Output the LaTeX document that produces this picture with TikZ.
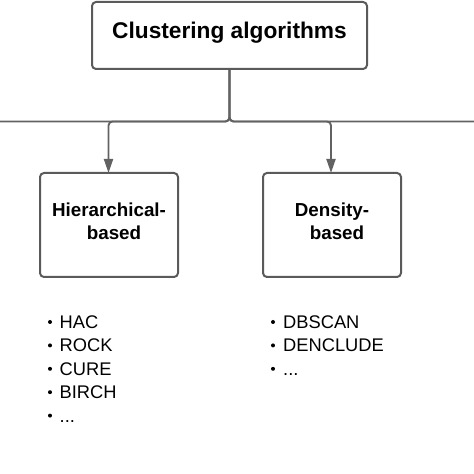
\documentclass[tikz,border=0pt]{standalone}
\usepackage{fontspec}
\setmainfont{Liberation Sans}
\usetikzlibrary{arrows.meta}
\definecolor{boxline}{HTML}{5A5A5A}
\definecolor{connline}{HTML}{626262}
\tikzset{
  box/.style={draw=boxline, line width=2pt, rounded corners=4pt, inner sep=0pt},
  conn/.style={draw=connline, line width=1.9pt, rounded corners=4pt},
  arr/.style={-{Triangle[width=9pt,length=14pt]}},
  lbl/.style={anchor=base, font=\bfseries\fontsize{18.8}{22}\selectfont, inner sep=0pt},
  item/.style={anchor=base west, font=\fontsize{18.3}{22}\selectfont, inner sep=0pt},
  dot/.style={circle, fill=black, inner sep=0pt, minimum size=4pt}
}
\begin{document}
\begin{tikzpicture}[x=1pt,y=1pt]
\useasboundingbox (0,0) rectangle (474,474);
% boxes
\node[box, minimum width=275pt, minimum height=67pt] (top) at (229.5,438.5) {};
\node[lbl, font=\bfseries\fontsize{22.7}{26}\selectfont] (toplbl) at (229.5,435) {Clustering algorithms};
\node[box, minimum width=138pt, minimum height=104pt] (hb) at (109,249) {};
\node[box, minimum width=138pt, minimum height=104pt] (db) at (332,249) {};
\node[lbl] (hb1) at (109,257) {Hierarchical-};
\node[lbl] (hb2) at (114,234) {based};
\node[lbl] (db1) at (332,257) {Density-};
\node[lbl] (db2) at (337,234) {based};
% connectors
\coordinate (edgeL) at (0,352.5);
\coordinate (edgeR) at (474,352.5);
\draw[conn] (top.south) |- (edgeL);
\draw[conn] (top.south) |- (edgeR);
\draw[conn, arr] (top.south) |- (108.5,352.5) -- (108.5,301);
\draw[conn, arr] (top.south) |- (331,352.5) -- (331,301);
% left list
\node[dot] (ld1) at (50,152) {};
\node[item] (li1) at (59.5,145.5) {HAC};
\node[dot] (ld2) at (50,128.6) {};
\node[item] (li2) at (59.5,122.1) {ROCK};
\node[dot] (ld3) at (50,105.2) {};
\node[item] (li3) at (59.5,98.7) {CURE};
\node[dot] (ld4) at (50,81.8) {};
\node[item] (li4) at (59.5,75.3) {BIRCH};
\node[dot] (ld5) at (50,58.4) {};
\node[item] (li5) at (59.5,51.9) {...};
% right list
\node[dot] (rd1) at (273,152) {};
\node[item] (ri1) at (283,145.5) {DBSCAN};
\node[dot] (rd2) at (273,128.6) {};
\node[item] (ri2) at (283,122.1) {DENCLUDE};
\node[dot] (rd3) at (273,105.2) {};
\node[item] (ri3) at (283,98.7) {...};
\end{tikzpicture}
\end{document}
